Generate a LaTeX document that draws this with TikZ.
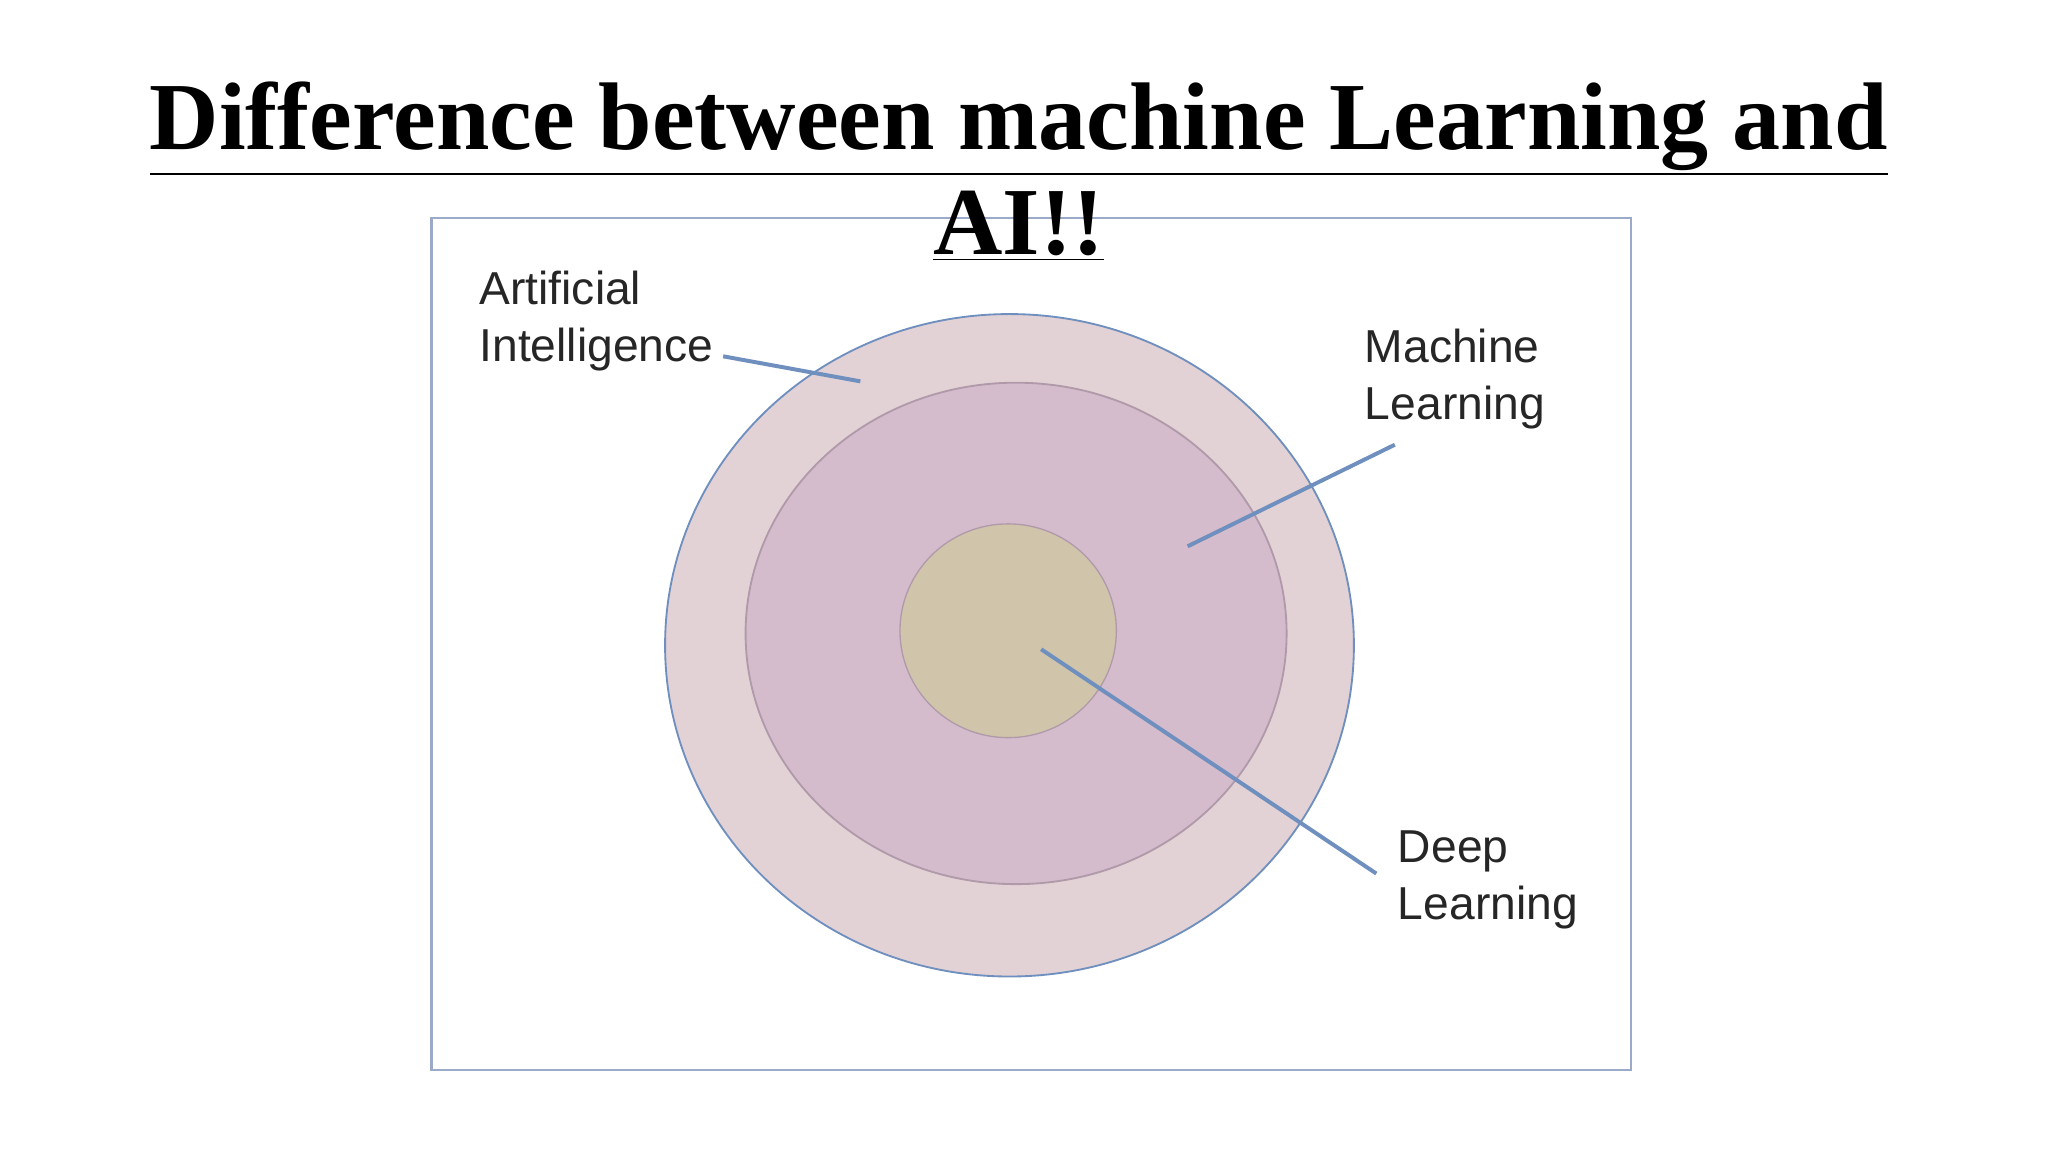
\documentclass[tikz,border=0pt]{standalone}
\usepackage{fontspec}
\usetikzlibrary{shapes.geometric}
\setmainfont{Liberation Serif}
\newfontfamily\lab{Liberation Sans}
\definecolor{frame}{HTML}{9AAAC8}
\definecolor{lineb}{HTML}{6F8FBF}
\definecolor{aifill}{HTML}{E3D2D5}
\definecolor{mlfill}{HTML}{D4BCCD}
\definecolor{dlfill}{HTML}{D0C5AA}
\definecolor{mledge}{HTML}{B09AAA}
\tikzset{lbl/.style={font=\lab\fontsize{17.5}{21.5}\selectfont,align=left,anchor=north west,inner sep=0pt,text=black!85},
 ptr/.style={draw=lineb,line width=1.5pt},
 ring/.style={ellipse,inner sep=0pt},
 ttl/.style={font=\fontsize{36.4}{40}\selectfont\bfseries,inner sep=0pt}}
\begin{document}
\begin{tikzpicture}[x=0.5pt,y=-0.5pt]
\useasboundingbox[fill=white] (0,0) rectangle (1552,873);
\draw[frame,line width=0.8pt] (327,165) rectangle (1236,811);
\node[ring,draw=lineb,fill=aifill,line width=0.7pt,minimum width=261pt,minimum height=251pt] (ai) at (765,489) {};
\node[ring,draw=mledge,fill=mlfill,line width=0.7pt,minimum width=205pt,minimum height=190pt] (ml) at (770,480) {};
\node[ring,draw=mledge,fill=dlfill,line width=0.5pt,minimum width=82pt,minimum height=81pt] (dl) at (764,478) {};
\node[lbl] (tai) at (363,205) {Artificial\\Intelligence};
\node[lbl] (tml) at (1034,249) {Machine\\Learning};
\node[lbl] (tdl) at (1059,629) {Deep\\Learning};
\coordinate (a1) at (548,270); \coordinate (a2) at (652,289);
\coordinate (m1) at (1057,337); \coordinate (m2) at (900,414);
\coordinate (d1) at (789,492); \coordinate (d2) at (1043,662);
\draw[ptr] (a1) -- (a2);
\draw[ptr] (m1) -- (m2);
\draw[ptr] (d1) -- (d2);
\node[ttl,anchor=base] (t1) at (772,113) {\underline{Difference between machine Learning and}};
\node[ttl,anchor=base] (t2) at (772,193) {\underline{AI!!}};
\end{tikzpicture}
\end{document}
